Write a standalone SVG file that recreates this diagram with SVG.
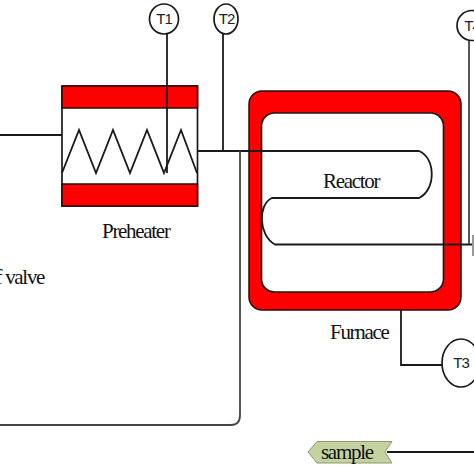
<svg xmlns="http://www.w3.org/2000/svg" width="474" height="474" viewBox="0 0 474 474">
<style>
.l{fill:none;stroke:#1a1a1a;stroke-width:1.8}
.g{fill:none;stroke:#444;stroke-width:1.8}
.r{fill:#fe0000;stroke:#2a0a0a;stroke-width:1.5}
.w{fill:#fff;stroke:#1a1a1a;stroke-width:1.7}
.t{font-family:"Liberation Serif",serif;font-size:21px;fill:#111;letter-spacing:-1.3px}
.s{font-family:"Liberation Sans",sans-serif;font-size:15px;fill:#222;text-anchor:middle;letter-spacing:-1px}
</style>
<rect width="474" height="474" fill="#fff"/>
<g id="preheater">
<rect class="w" x="62" y="86" width="135.500" height="120"/>
<rect class="r" x="62" y="86" width="135.500" height="22"/>
<rect class="r" x="62" y="184" width="135.500" height="22"/>
<path class="l" d="M62 173L79 130L96 173L113 130L130 173L147 130L164 173L181 130L197 173"/>
<text class="t" x="102" y="238">Preheater</text>
</g>
<g id="furnace">
<rect class="r" x="249" y="91" width="212" height="219" rx="13"/>
<rect class="w" x="261.500" y="113" width="182" height="179" rx="13"/>
<text class="t" x="330" y="339">Furnace</text>
</g>
<g id="connectors">
<path class="l" d="M0 135H62"/>
<path class="l" d="M167 33V173"/>
<path class="l" d="M223 33V151"/>
<path class="l" d="M197.500 151H419C436 158 436 190 419 198H272C258 204 258 235 275 244.500H474"/>
<path class="g" d="M240 151V415Q240 425 231 425H0"/>
<path class="l" d="M401 310V365H442"/>
<path class="g" d="M469 40V244"/>
<path class="l" d="M387 452H474"/>
<rect x="472" y="235" width="2" height="21" fill="#999"/>
</g>
<g id="reactor"><text class="t" x="323" y="188">Reactor</text></g>
<g id="valve"><text class="t" x="-4.500" y="284">f valve</text></g>
<g id="T1"><ellipse class="w" cx="164" cy="19" rx="14.500" ry="15"/><text class="s" x="164" y="24">T1</text></g>
<g id="T2"><ellipse class="w" cx="226" cy="19" rx="12" ry="15"/><text class="s" x="226.500" y="24">T2</text></g>
<g id="T3"><ellipse class="w" cx="461" cy="363" rx="19" ry="24"/><text class="s" x="461" y="368">T3</text></g>
<g id="T4"><ellipse class="w" cx="472" cy="25.500" rx="15" ry="15"/><text class="s" x="472" y="30.500">T4</text></g>
<g id="sample">
<polygon points="308,452 317,441.500 392,441.500 385,452 392,463 317,463" fill="#c3d39f" stroke="#8f9a70" stroke-width="1"/>
<text class="t" x="321" y="459">sample</text>
</g>
</svg>
